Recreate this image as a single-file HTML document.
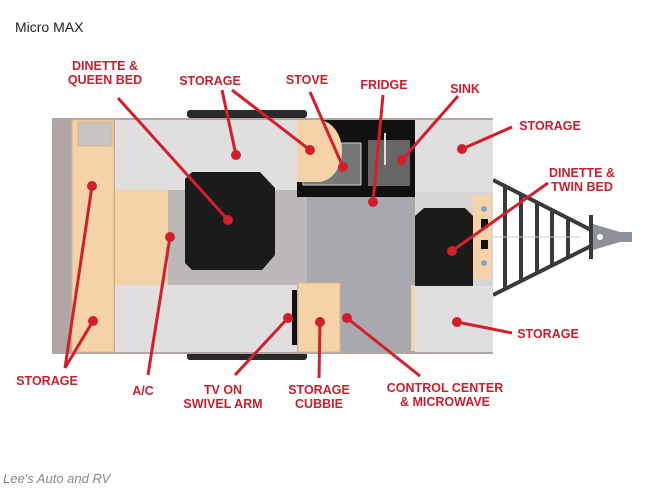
<!DOCTYPE html>
<html><head><style>
html,body{margin:0;padding:0;background:#fff;}
svg{display:block;}
.l{font-family:"Liberation Sans",sans-serif;font-weight:bold;font-size:12.5px;fill:#c8202e;}
</style></head><body>
<svg width="653" height="490" viewBox="0 0 653 490" xmlns="http://www.w3.org/2000/svg">
<text x="15" y="32" font-family="Liberation Sans,sans-serif" font-size="14" fill="#222">Micro MAX</text>
<!-- tongue -->
<g stroke="#3a3a3a" stroke-width="4" fill="none">
<path d="M493 180 L595 232 M493 295 L595 244"/>
<path d="M505 186 V290 M521 194 V282 M537 202 V274 M552 210 V266 M568 218 V258"/>
</g>
<path d="M493 237 H580" stroke="#ccc" stroke-width="1"/>
<rect x="589" y="215" width="4" height="44" fill="#3a3a3a"/>
<path d="M593 224 L620 232 L632 232 L632 242 L620 242 L593 250 Z" fill="#8d9198"/>
<circle cx="600" cy="237" r="3" fill="#fff"/>
<!-- wheels -->
<rect x="187" y="110" width="120" height="8" rx="3" fill="#2a2a2a"/>
<rect x="187" y="352" width="120" height="8" rx="3" fill="#2a2a2a"/>
<!-- body -->
<rect x="52" y="118" width="441" height="236" fill="#b0a7a2"/>
<rect x="72" y="120" width="42" height="232" fill="#f5d2a8" stroke="#d9b58d"/>
<rect x="78" y="122" width="34" height="24" fill="#c8c4c4" stroke="#d9b58d"/>
<rect x="115" y="120" width="182" height="70" fill="#e0dede"/>
<rect x="115" y="190" width="53" height="96" fill="#f5d2a8"/>
<rect x="168" y="190" width="140" height="96" fill="#bdb8b8"/>
<rect x="115" y="285" width="182" height="67" fill="#e0dede"/>
<path d="M192 172 H260 L275 188 V255 L262 270 H192 L185 263 V179 Z" fill="#1b1b1b"/>
<rect x="307" y="196" width="106" height="156" fill="#a9a8ae"/>
<rect x="297" y="120" width="118" height="77" fill="#111"/>
<rect x="303" y="143" width="58" height="42" fill="#777" stroke="#ccc"/>
<rect x="368" y="140" width="42" height="46" fill="#666"/>
<path d="M385 133 V165" stroke="#ddd" stroke-width="2"/>
<path d="M297 120 H318 A24 31 0 0 1 318 182 H297 Z" fill="#f5d2a8"/>
<rect x="415" y="120" width="78" height="72" fill="#e0dede"/>
<rect x="415" y="192" width="78" height="94" fill="#d6d4d4"/>
<rect x="473" y="195" width="18" height="84" fill="#f5d2a8"/>
<circle cx="484" cy="209" r="3" fill="#7ea3d6"/><rect x="481" y="219" width="7" height="9" fill="#111"/>
<rect x="481" y="240" width="7" height="9" fill="#111"/><circle cx="484" cy="263" r="3" fill="#7ea3d6"/>
<path d="M424 208 H465 L473 216 V292 L467 298 H424 L415 290 V216 Z" fill="#1b1b1b"/>
<rect x="415" y="286" width="78" height="66" fill="#e0dede"/>
<rect x="411" y="285" width="4" height="66" fill="#f5d2a8"/>
<rect x="298" y="283" width="42" height="69" fill="#f5d2a8" stroke="#d9b58d"/>
<rect x="292" y="290" width="5" height="55" fill="#111"/>
<!-- lines -->
<g stroke="#d0202e" stroke-width="3" fill="none">
<path d="M118 98 L228 220"/>
<path d="M222 90 L236 155 M232 90 L310 150"/>
<path d="M310 92 L343 167"/>
<path d="M383 95 L373 202"/>
<path d="M458 96 L402 160"/>
<path d="M512 127 L462 149"/>
<path d="M548 183 L452 251"/>
<path d="M512 333 L457 322"/>
<path d="M65 368 L92 186 M65 368 L93 321"/>
<path d="M148 375 L170 237"/>
<path d="M235 375 L288 318"/>
<path d="M319 378 L320 322"/>
<path d="M420 376 L347 318"/>
</g>
<g fill="#d0202e">
<circle cx="228" cy="220" r="5"/><circle cx="236" cy="155" r="5"/><circle cx="310" cy="150" r="5"/>
<circle cx="343" cy="167" r="5"/><circle cx="373" cy="202" r="5"/><circle cx="402" cy="160" r="5"/>
<circle cx="462" cy="149" r="5"/><circle cx="452" cy="251" r="5"/><circle cx="457" cy="322" r="5"/>
<circle cx="92" cy="186" r="5"/><circle cx="93" cy="321" r="5"/><circle cx="170" cy="237" r="5"/>
<circle cx="288" cy="318" r="5"/><circle cx="320" cy="322" r="5"/><circle cx="347" cy="318" r="5"/>
</g>
<g class="l" text-anchor="middle">
<text x="105" y="70">DINETTE &amp;</text><text x="105" y="84">QUEEN BED</text>
<text x="210" y="85">STORAGE</text>
<text x="307" y="84">STOVE</text>
<text x="384" y="89">FRIDGE</text>
<text x="465" y="93">SINK</text>
<text x="550" y="130">STORAGE</text>
<text x="582" y="177">DINETTE &amp;</text><text x="582" y="191">TWIN BED</text>
<text x="548" y="338">STORAGE</text>
<text x="47" y="385">STORAGE</text>
<text x="143" y="395">A/C</text>
<text x="223" y="394">TV ON</text><text x="223" y="408">SWIVEL ARM</text>
<text x="319" y="394">STORAGE</text><text x="319" y="408">CUBBIE</text>
<text x="445" y="392">CONTROL CENTER</text><text x="445" y="406">&amp; MICROWAVE</text>
</g>
<text x="3" y="483" font-family="Liberation Sans,sans-serif" font-style="italic" font-size="13" fill="#888">Lee's Auto and RV</text>
</svg>
</body></html>
